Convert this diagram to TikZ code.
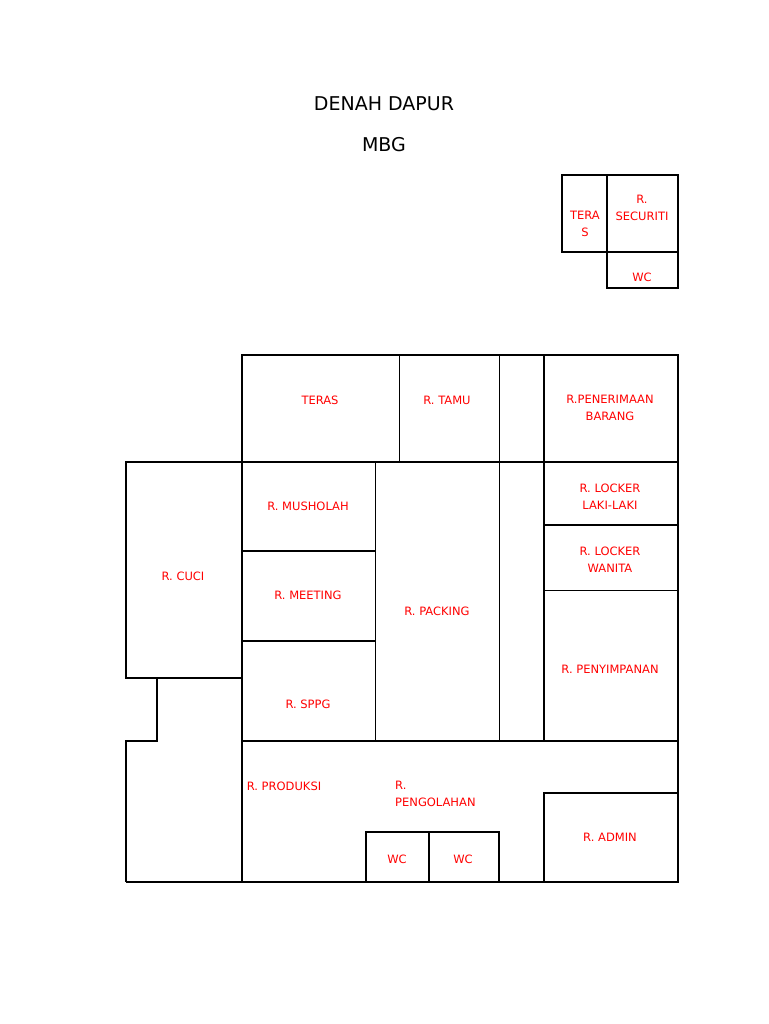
\documentclass[tikz,border=0pt]{standalone}
\usepackage{fontspec}
\setmainfont{DejaVu Sans}
\begin{document}
\begin{tikzpicture}[x=1pt,y=-1pt,
  wall/.style={line width=1.6pt},
  thin/.style={line width=0.9pt},
  lbl/.style={text=red,font=\fontsize{11.5}{17}\selectfont,align=center,inner sep=0pt},
  ttl/.style={font=\fontsize{19}{22}\selectfont,inner sep=0pt}]
\useasboundingbox[fill=white] (0,0) rectangle (768,1024);
% security block
\draw[wall] (562,175) rectangle (678,252);
\draw[wall] (607,175) -- (607,288);
\draw[wall] (607,252) rectangle (678,288);
% main outline
\draw[wall] (242,355) rectangle (678,882);
\draw[wall] (126,882) -- (242,882);
\draw[wall] (126,462) rectangle (242,678);
\draw[wall] (157,678) -- (157,741) -- (126,741) -- (126,882);
\draw[thin] (399,355) -- (399,462);
\draw[thin] (499,355) -- (499,741);
\draw[wall] (544,355) -- (544,741);
\draw[wall] (242,462) -- (678,462);
\draw[wall] (242,551) -- (375,551);
\draw[wall] (242,641) -- (375,641);
\draw[thin] (375,462) -- (375,741);
\draw[wall] (242,741) -- (678,741);
\draw[wall] (544,525) -- (678,525);
\draw[thin] (544,590) -- (678,590);
\draw[wall] (544,793) rectangle (678,882);
\draw[wall] (366,832) rectangle (499,882);
\draw[wall] (429,832) -- (429,882);
% titles
\node[ttl] (t1) at (384,104) {DENAH DAPUR};
\node[ttl] (t2) at (384,145) {MBG};
% labels
\node[lbl] (teras2) at (585,224) {TERA\\S};
\node[lbl] (sec) at (642,208) {R.\\SECURITI};
\node[lbl] (wc0) at (642,277) {WC};
\node[lbl] (teras) at (320,400) {TERAS};
\node[lbl] (tamu) at (447,400) {R. TAMU};
\node[lbl] (pen) at (610,408) {R.PENERIMAAN\\BARANG};
\node[lbl] (mus) at (308,506) {R. MUSHOLAH};
\node[lbl] (cuci) at (183,576) {R. CUCI};
\node[lbl] (meet) at (308,595) {R. MEETING};
\node[lbl] (pack) at (437,611) {R. PACKING};
\node[lbl] (sppg) at (308,704) {R. SPPG};
\node[lbl] (lk1) at (610,497) {R. LOCKER\\LAKI-LAKI};
\node[lbl] (lk2) at (610,560) {R. LOCKER\\WANITA};
\node[lbl] (peny) at (610,669) {R. PENYIMPANAN};
\node[lbl] (prod) at (284,786) {R. PRODUKSI};
\node[lbl,align=left,anchor=west] (peng) at (395,794) {R.\\PENGOLAHAN};
\node[lbl] (wc1) at (397,859) {WC};
\node[lbl] (wc2) at (463,859) {WC};
\node[lbl] (adm) at (610,837) {R. ADMIN};
\end{tikzpicture}
\end{document}
